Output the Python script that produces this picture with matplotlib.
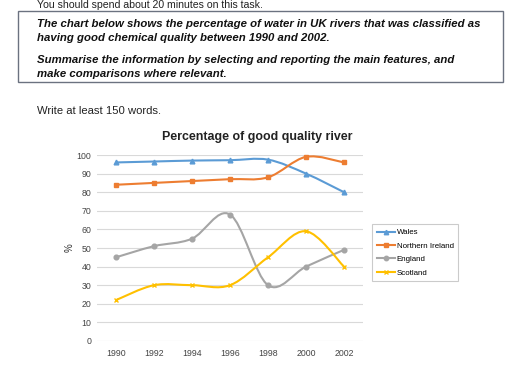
import matplotlib
matplotlib.use("Agg")
import matplotlib.pyplot as plt
from matplotlib.path import Path
from matplotlib.patches import PathPatch, Rectangle

plt.rcParams['font.family'] = ['Liberation Sans', 'DejaVu Sans']

years = [1990, 1992, 1994, 1996, 1998, 2000, 2002]
wales = [96, 96.5, 97, 97.2, 97.5, 90, 80]
n_ireland = [84, 85, 86, 87, 88, 99, 96]
england = [45, 51, 55, 68, 30, 40, 49]
scotland = [22, 30, 30, 30, 45, 59, 40]

series = [
    ("Wales", wales, "#5B9BD5", "^"),
    ("Northern Ireland", n_ireland, "#ED7D31", "s"),
    ("England", england, "#A5A5A5", "o"),
    ("Scotland", scotland, "#FFC000", "x"),
]


def smooth_path(xs, ys):
    # Excel-style smoothed line: cubic bezier through every point
    verts = [(xs[0], ys[0])]
    codes = [Path.MOVETO]
    n = len(xs)
    for i in range(n - 1):
        x0, y0 = (xs[i - 1], ys[i - 1]) if i > 0 else (xs[i], ys[i])
        x1, y1 = xs[i], ys[i]
        x2, y2 = xs[i + 1], ys[i + 1]
        x3, y3 = (xs[i + 2], ys[i + 2]) if i + 2 < n else (x2, y2)
        c1 = (x1 + (x2 - x0) / 6, y1 + (y2 - y0) / 6)
        c2 = (x2 - (x3 - x1) / 6, y2 - (y3 - y1) / 6)
        verts += [c1, c2, (x2, y2)]
        codes += [Path.CURVE4] * 3
    return Path(verts, codes)


fig = plt.figure(figsize=(5.12, 3.73), dpi=100)

# task text
fig.text(37 / 512, 1 - 8.5 / 373, "You should spend about 20 minutes on this task.",
         fontsize=7.6, va='baseline', ha='left', color='#222222')
fig.patches.append(Rectangle((18 / 512, 1 - 82 / 373), 485 / 512, 71 / 373,
                             transform=fig.transFigure, fill=False,
                             edgecolor='#6b7280', lw=1.0))
box_style = dict(fontsize=8.2, fontweight='bold', fontstyle='italic', ha='left',
                 va='center', color='#111111')
fig.text(37 / 512, 1 - 24 / 373,
         "The chart below shows the percentage of water in UK rivers that was classified as",
         **box_style)
fig.text(37 / 512, 1 - 38 / 373,
         "having good chemical quality between 1990 and 2002.", **box_style)
fig.text(37 / 512, 1 - 60 / 373,
         "Summarise the information by selecting and reporting the main features, and",
         **box_style)
fig.text(37 / 512, 1 - 74 / 373, "make comparisons where relevant.", **box_style)
fig.text(37 / 512, 1 - 111 / 373, "Write at least 150 words.",
         fontsize=8.1, va='center', ha='left', color='#222222')

ax = fig.add_axes([97 / 512, 1 - 341 / 373, 266 / 512, 186 / 373])
ax.set_xlim(1989, 2003)
ax.set_ylim(0, 100)

for name, vals, col, mk in series:
    ax.add_patch(PathPatch(smooth_path(years, vals), facecolor='none',
                           edgecolor=col, lw=1.5, clip_on=False))
    ax.plot(years, vals, linestyle='none', marker=mk, color=col,
            markersize=3.4, markeredgewidth=1.0, clip_on=False)
    ax.plot([], [], color=col, marker=mk, markersize=3.2, lw=1.5, label=name)

ax.set_yticks(range(0, 101, 10))
ax.set_xticks(years)
ax.grid(axis='y', color='#D9D9D9', lw=0.8)
ax.set_axisbelow(True)
for s in ax.spines.values():
    s.set_visible(False)
ax.tick_params(length=0, labelsize=6.3, colors='#444444')
ax.tick_params(axis='y', pad=4)
ax.tick_params(axis='x', pad=6)

fig.text(70 / 512, 1 - 248 / 373, "%", fontsize=7, rotation=90,
         ha='center', va='center', color='#333333')
fig.text(257 / 512, 1 - 137 / 373, "Percentage of good quality river",
         fontsize=8.9, fontweight='bold', ha='center', va='center', color='#222222')

leg = ax.legend(loc='upper left', bbox_to_anchor=(372 / 512, 1 - 224 / 373),
                bbox_transform=fig.transFigure, fontsize=5.7, frameon=True,
                fancybox=False, edgecolor='#BFBFBF', handlelength=2.3,
                borderpad=0.6, labelspacing=0.75, handletextpad=0.2,
                borderaxespad=0)
leg.get_frame().set_linewidth(0.8)

fig.savefig("out.png", dpi=100)
